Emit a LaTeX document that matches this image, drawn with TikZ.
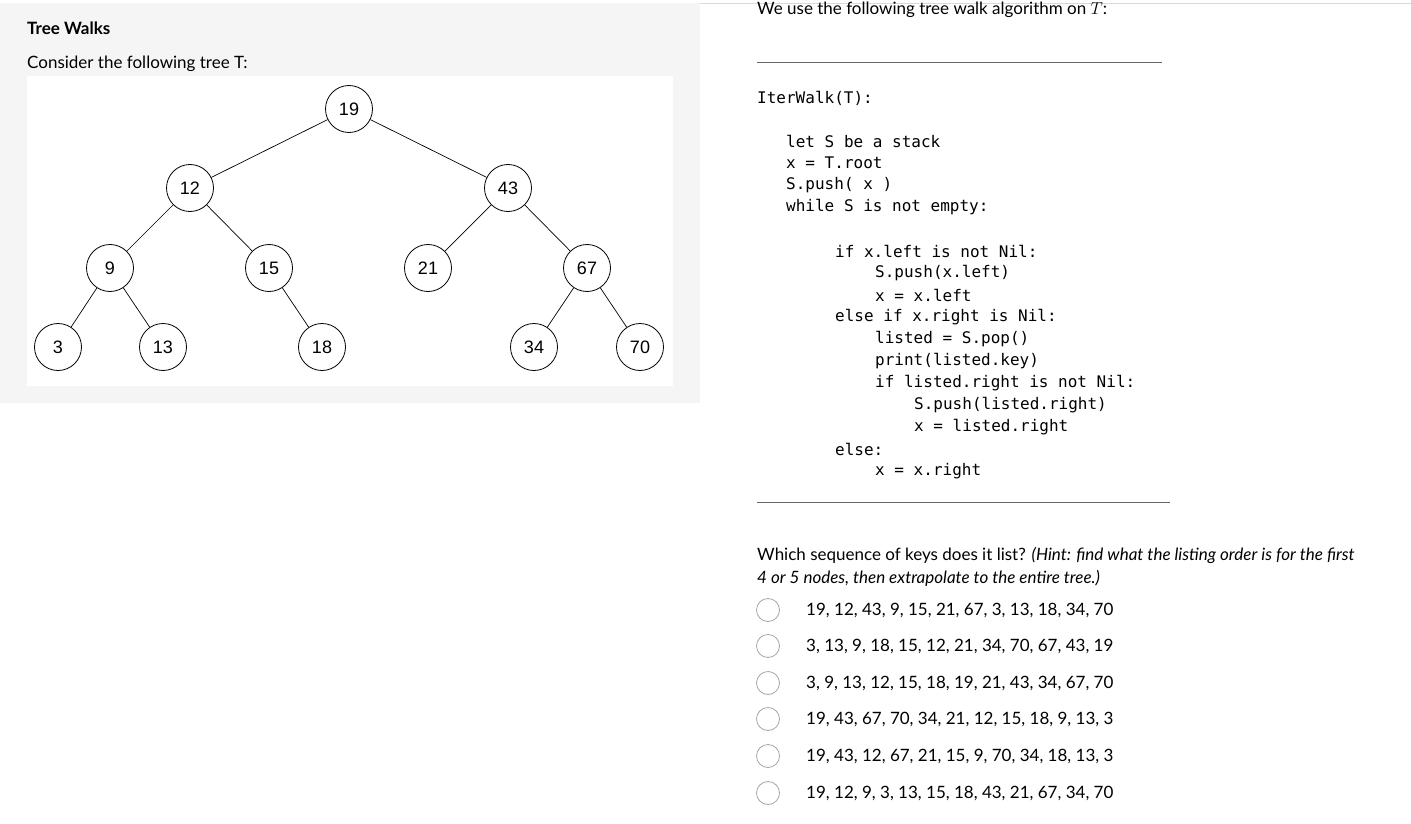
\documentclass[tikz,border=0pt]{standalone}
\usepackage{fontspec}
\setmainfont{Lato}
\newfontfamily\arialf{Liberation Sans}
\newfontfamily\codef{DejaVu Sans Mono}
\begin{document}
\begin{tikzpicture}[x=1pt,y=-1pt,
  tn/.style={circle,draw,line width=0.8pt,minimum size=47pt,inner sep=0pt,font=\arialf\fontsize{18}{18}\selectfont},
  edge/.style={line width=0.7pt},
  tx/.style={anchor=west,inner sep=0pt,font=\fontsize{17}{17}\selectfont},
  cd/.style={anchor=west,inner sep=0pt,font=\codef\fontsize{16}{16}\selectfont},
  rb/.style={circle,draw=black!35,line width=0.8pt,minimum size=23pt,inner sep=0pt}]
\useasboundingbox (0,0) rectangle (1411,824);
\fill[white] (0,0) rectangle (1411,824);
\draw[black!15] (0,3) -- (1411,3);
\fill[black!4] (0,3) rectangle (700,403);
\fill[white] (27,76) rectangle (673,386);
\node[tx,font=\bfseries\fontsize{17}{17}\selectfont] (title) at (27,28) {Tree Walks};
\node[tx] (cons) at (27,64) {Consider the following tree T:};
\node[tn] (n19) at (349,109) {19};
\node[tn] (n12) at (190,188) {12};
\node[tn] (n43) at (508,188) {43};
\node[tn] (n9) at (110,268) {9};
\node[tn] (n15) at (269,268) {15};
\node[tn] (n21) at (428,268) {21};
\node[tn] (n67) at (587,268) {67};
\node[tn] (n3) at (58,347) {3};
\node[tn] (n13) at (163,347) {13};
\node[tn] (n18) at (322,347) {18};
\node[tn] (n34) at (534,347) {34};
\node[tn] (n70) at (640,347) {70};
\foreach \a/\b in {19/12,19/43,12/9,12/15,43/21,43/67,9/3,9/13,15/18,67/34,67/70}
  \draw[edge] (n\a) -- (n\b);
\node[tx] (we) at (757,10) {We use the following tree walk algorithm on $T$:};
\draw[black!60,line width=0.6pt] (757,62) -- (1162,62);
\node[cd] (c0) at (757,98) {IterWalk(T):};
\node[cd] (c1) at (786,141) {let S be a stack};
\node[cd] (c2) at (786,163) {x = T.root};
\node[cd] (c3) at (786,185) {S.push( x )};
\node[cd] (c4) at (786,207) {while S is not empty:};
\node[cd] (c5) at (835,251) {if x.left is not Nil:};
\node[cd] (c6) at (875,273) {S.push(x.left)};
\node[cd] (c7) at (875,295) {x = x.left};
\node[cd] (c8) at (835,317) {else if x.right is Nil:};
\node[cd] (c9) at (875,339) {listed = S.pop()};
\node[cd] (c10) at (875,361) {print(listed.key)};
\node[cd] (c11) at (875,383) {if listed.right is not Nil:};
\node[cd] (c12) at (914,405) {S.push(listed.right)};
\node[cd] (c13) at (914,427) {x = listed.right};
\node[cd] (c14) at (835,449) {else:};
\node[cd] (c15) at (875,471) {x = x.right};
\draw[black!60,line width=0.6pt] (757,502) -- (1170,502);
\node[tx] (q1) at (757,555) {Which sequence of keys does it list? \textit{(Hint: find what the listing order is for the first}};
\node[tx] (q2) at (757,578) {\textit{4 or 5 nodes, then extrapolate to the entire tree.)}};
\foreach \y/\t [count=\i] in {610/{19, 12, 43, 9, 15, 21, 67, 3, 13, 18, 34, 70},
  646/{3, 13, 9, 18, 15, 12, 21, 34, 70, 67, 43, 19},
  683/{3, 9, 13, 12, 15, 18, 19, 21, 43, 34, 67, 70},
  719/{19, 43, 67, 70, 34, 21, 12, 15, 18, 9, 13, 3},
  756/{19, 43, 12, 67, 21, 15, 9, 70, 34, 18, 13, 3},
  793/{19, 12, 9, 3, 13, 15, 18, 43, 21, 67, 34, 70}} {
  \node[rb] (r\i) at (768,\y) {};
  \node[tx] (o\i) at (806,\y) {\t};
}
\end{tikzpicture}
\end{document}
